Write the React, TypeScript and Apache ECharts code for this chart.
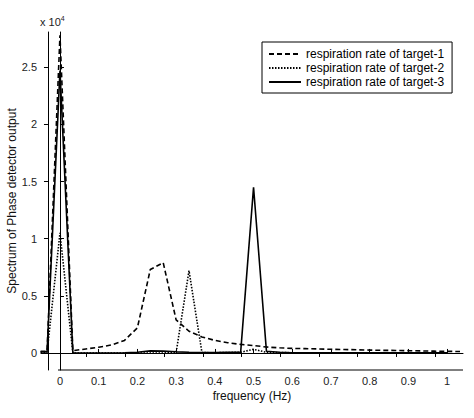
import { useEffect, useRef } from 'react';
import * as echarts from 'echarts';

// frequency samples (Hz), 1/30 Hz apart plus the first edge point
const freqs = [
  -0.05, -0.0333, 0, 0.0333, 0.0667, 0.1, 0.1333, 0.1667, 0.2, 0.2333, 0.2667, 0.3,
  0.3333, 0.3667, 0.4, 0.4333, 0.4667, 0.5, 0.5333, 0.5667, 0.6, 0.6333, 0.6667, 0.7,
  0.7333, 0.7667, 0.8, 0.8333, 0.8667, 0.9, 0.9333, 0.9667, 1.0, 1.0333,
];

const target1 = [
  150, 150, 27800, 200, 350, 500, 700, 1100, 2200, 7300, 7900, 2900,
  1900, 1400, 1100, 900, 750, 650, 520, 450, 400, 380, 350, 320,
  300, 280, 250, 230, 220, 200, 180, 160, 140, 130,
];

const target2 = [
  50, 50, 10500, 0, 0, 0, 0, 0, 0, 0, 0, 30,
  7200, 30, 20, 40, 60, 320, 60, 40, 20, 20, 20, 20,
  20, 20, 20, 20, 20, 20, 20, 20, 20, null,
];

const target3 = [
  100, 100, 24700, 0, 0, 0, 0, 20, 60, 180, 160, 100,
  60, 40, 40, 50, 60, 14500, 150, 60, 20, 10, 10, 10,
  10, 10, 10, 10, 10, 10, 10, 10, 10, null,
];

const seriesNames = [
  'respiration rate of target-1',
  'respiration rate of target-2',
  'respiration rate of target-3',
];

const xTicks = [0, 0.1, 0.2, 0.3, 0.4, 0.5, 0.6, 0.7, 0.8, 0.9, 1];
const yTicks = [0, 5000, 10000, 15000, 20000, 25000];

const FONT = '"Liberation Sans", Arial, sans-serif';

const pairs = (ys: (number | null)[]) => freqs.map((f, i) => [f, ys[i]]);

export default function App() {
  const chartRef = useRef<HTMLDivElement>(null);

  useEffect(() => {
    if (!chartRef.current) return;
    const chart = echarts.init(chartRef.current, null, { renderer: 'svg' });

    const line = (name: string, data: (number | null)[], type: any) => ({
      name,
      type: 'line',
      data: pairs(data),
      symbol: 'none',
      connectNulls: false,
      lineStyle: { color: '#000', width: 1.6, type },
      itemStyle: { color: '#000' },
    });

    const option: any = {
      animation: false,
      backgroundColor: '#fff',
      textStyle: { fontFamily: FONT },
      grid: {
        left: 41,
        top: 32,
        right: 11,
        bottom: 48,
        containLabel: false,
        outerBoundsMode: 'none',
      },
      legend: {
        data: seriesNames,
        orient: 'vertical',
        left: 262,
        top: 42,
        backgroundColor: '#fff',
        borderColor: '#000',
        borderWidth: 1,
        borderRadius: 0,
        padding: [5, 8, 4, 6],
        itemWidth: 32,
        itemHeight: 14,
        itemGap: 0,
        itemStyle: { color: 'transparent', borderColor: 'transparent', borderWidth: 0 },
        textStyle: { fontSize: 12, lineHeight: 14, color: '#000', fontFamily: FONT },
      },
      xAxis: [
        {
          type: 'value',
          position: 'bottom',
          min: -0.049,
          max: 1.041,
          name: 'frequency (Hz)',
          nameLocation: 'middle',
          nameGap: 20,
          nameMoveOverlap: false,
          nameTextStyle: { fontSize: 12, color: '#111', fontFamily: FONT },
          axisLine: { show: false },
          axisTick: {
            show: true,
            inside: true,
            length: 4,
            customValues: xTicks,
            lineStyle: { color: '#000' },
          },
          axisLabel: {
            customValues: xTicks,
            margin: 5,
            fontSize: 11,
            color: '#222',
            formatter: (v: number) => String(Number(v.toFixed(1))),
          },
          splitLine: { show: false },
        },
        {
          type: 'value',
          position: 'top',
          min: -0.018,
          max: 1.072,
          axisLine: { show: true, lineStyle: { color: '#000' } },
          axisTick: {
            show: true,
            inside: true,
            length: 4,
            customValues: xTicks,
            lineStyle: { color: '#000' },
          },
          axisLabel: { show: false },
          splitLine: { show: false },
        },
      ],
      yAxis: [
        {
          type: 'value',
          position: 'left',
          min: -1490,
          max: 28080,
          name: 'Spectrum of Phase detector output',
          nameLocation: 'middle',
          nameGap: 23,
          nameMoveOverlap: false,
          nameTextStyle: { fontSize: 12, color: '#111', fontFamily: FONT },
          axisLine: { show: true, lineStyle: { color: '#000' } },
          axisTick: {
            show: true,
            inside: true,
            length: 4,
            customValues: yTicks,
            lineStyle: { color: '#000' },
          },
          axisLabel: {
            customValues: yTicks,
            margin: 4,
            fontSize: 11,
            color: '#222',
            formatter: (v: number) => String(v / 10000),
          },
          splitLine: { show: false },
        },
        {
          type: 'value',
          position: 'right',
          min: -1490,
          max: 28080,
          axisLine: { show: true, lineStyle: { color: '#000' } },
          axisTick: {
            show: true,
            inside: true,
            length: 4,
            customValues: yTicks,
            lineStyle: { color: '#000' },
          },
          axisLabel: { show: false },
          splitLine: { show: false },
        },
      ],
      graphic: [
        {
          type: 'line',
          shape: { x1: 58, y1: 370, x2: 463, y2: 370 },
          style: { stroke: '#000', lineWidth: 1 },
          silent: true,
        },
        {
          type: 'text',
          left: 40,
          top: 15,
          style: {
            text: 'x 10{s|4}',
            fontSize: 11,
            fontFamily: FONT,
            fill: '#222',
            rich: {
              s: { fontSize: 7, verticalAlign: 'top', padding: [0, 0, 6, 0], fill: '#222' },
            },
          },
          silent: true,
        },
      ],
      series: [
        line(seriesNames[0], target1, [5, 3]),
        line(seriesNames[1], target2, [1.5, 1.5]),
        line(seriesNames[2], target3, 'solid'),
      ],
    };

    chart.setOption(option);

    return () => {
      chart.dispose();
    };
  }, []);

  return (
    <div
      ref={chartRef}
      style={{ position: 'absolute', left: 0, top: 0, width: 474, height: 418 }}
    />
  );
}
